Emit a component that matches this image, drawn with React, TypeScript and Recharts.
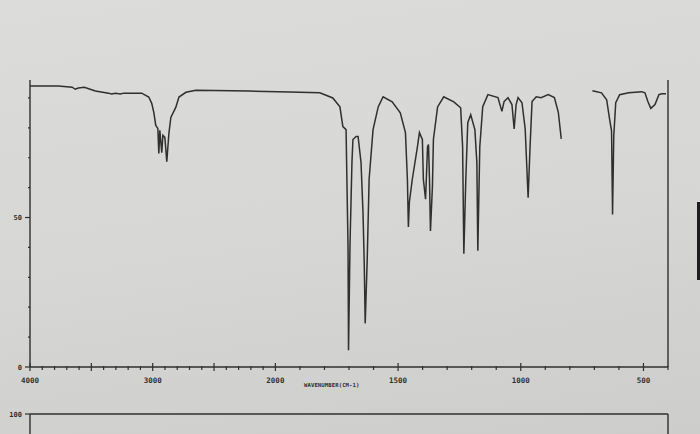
import React from 'react';
import { LineChart, Line, XAxis, YAxis, ReferenceLine } from 'recharts';

// spectrum (null = pen lifted)
const wavenumbers = [
  4000, 3770, 3656, 3631, 3606, 3557, 3467, 3360, 3336, 3303,
  3262, 3237, 3090, 3032, 3008, 2991, 2975, 2958, 2950, 2942,
  2926, 2917, 2901, 2885, 2868, 2852, 2811, 2786, 2729, 2647,
  2212, 1942, 1819, 1766, 1737, 1725, 1712, 1704, 1702, 1696,
  1688, 1684, 1671, 1663, 1651, 1643, 1638, 1634, 1626, 1618,
  1602, 1581, 1561, 1524, 1491, 1470, 1462, 1458, 1454, 1442,
  1421, 1413, 1401, 1397, 1388, 1380, 1376, 1372, 1368, 1360,
  1356, 1339, 1314, 1273, 1245, 1237, 1232, 1224, 1216, 1204,
  1187, 1179, 1175, 1167, 1155, 1134, 1093, 1077, 1068, 1052,
  1036, 1027, 1019, 1011, 995, 982, 970, 962, 954, 937,
  917, 888, 863, 847, 835, 770, 708, 671, 650, 638,
  630, 626, 621, 613, 597, 560, 507, 494, 482, 470,
  453, 437, 425, 408,
];
const transmittance: (number | null)[] = [
  94.0, 94.0, 93.6, 92.9, 93.3, 93.6, 92.3, 91.6, 91.3, 91.6,
  91.3, 91.6, 91.6, 90.3, 88.2, 85.2, 80.8, 79.8, 71.4, 79.2,
  71.7, 77.5, 76.8, 68.7, 78.1, 83.5, 86.9, 90.3, 91.9, 92.6,
  92.3, 92.0, 91.7, 90.0, 87.0, 80.4, 79.4, 40.5, 5.6, 40.5,
  68.4, 76.1, 77.1, 77.1, 68.4, 51.8, 35.2, 14.6, 35.2, 62.8,
  79.4, 87.0, 90.4, 88.7, 85.0, 78.4, 62.8, 46.8, 55.1, 62.8,
  73.7, 78.4, 76.1, 62.8, 56.1, 73.7, 74.4, 62.8, 45.5, 60.5,
  76.1, 87.0, 90.4, 88.7, 86.7, 73.7, 37.9, 62.8, 81.7, 84.4,
  79.4, 68.4, 38.9, 73.7, 87.1, 91.1, 90.1, 85.5, 88.8, 90.1,
  87.8, 79.6, 87.8, 90.1, 88.4, 79.6, 56.6, 74.0, 88.8, 90.4,
  90.1, 91.1, 90.1, 85.2, 76.3, null, 92.4, 91.7, 89.4, 82.9,
  78.9, 51.0, 77.3, 88.4, 91.1, 91.7, 92.1, 91.7, 88.8, 86.5,
  87.8, 91.1, 91.4, 91.4,
];

const xTickWavenumbers = [
  4000, 3900, 3800, 3700, 3600, 3500, 3400, 3300, 3200, 3100,
  3000, 2900, 2800, 2700, 2600, 2500, 2400, 2300, 2200, 2100,
  2000, 1900, 1800, 1700, 1600, 1500, 1400, 1300, 1200, 1100,
  1000, 900, 800, 700, 600, 500, 400,
];
const xMajorLabels = [4000, 3000, 2000, 1500, 1000, 500];
const yTicks = [0, 10, 20, 30, 40, 50, 60, 70, 80, 90];
const yLabels = [0, 50];
const nextPanelTicks = [100];

// chart paper: 4000-2000 is drawn at half the scale of 2000-400
const toScale = (w: number) => (w >= 2000 ? (4000 - w) / 2 : 1000 + (2000 - w));
const fromScale = (u: number) => (u <= 1000 ? 4000 - u * 2 : 2000 - (u - 1000));

const data = wavenumbers.map((w, i) => ({ u: toScale(w), t: transmittance[i] }));

const INK = '#2f2f2f';
const FONT = '"DejaVu Sans Mono", monospace';

const WaveTick = (props: any) => {
  const { x, y, payload } = props;
  const w = Math.round(fromScale(payload.value));
  const major = w % 500 === 0;
  const showLabel = xMajorLabels.includes(w);
  return (
    <g>
      <line x1={x} x2={x} y1={y - (major ? 4 : 1)} y2={y + (major ? 4 : 3)} stroke={INK} strokeWidth={1.2} />
      {showLabel && (
        <text x={x} y={y + 16} textAnchor="middle" fontSize={7.5} fontWeight="bold" fontFamily={FONT} fill={INK}>
          {w}
        </text>
      )}
    </g>
  );
};

const PercentTick = (props: any) => {
  const { x, y, payload } = props;
  const major = yLabels.includes(payload.value) || nextPanelTicks.includes(payload.value);
  return (
    <g>
      <line x1={x} x2={x - (major ? 5 : 2)} y1={y} y2={y} stroke={INK} strokeWidth={1.2} />
      {major && (
        <text x={x - 8} y={y + 2.5} textAnchor="end" fontSize={7} fontWeight="bold" fontFamily={FONT} fill={INK}>
          {payload.value}
        </text>
      )}
    </g>
  );
};

export default function App() {
  return (
    <div
      style={{
        position: 'fixed',
        left: 0,
        top: 0,
        width: 700,
        height: 434,
        overflow: 'hidden',
        background: 'linear-gradient(172deg, #dcdcda 0%, #d6d6d4 55%, #cdcdcb 100%)',
      }}
    >
      <div style={{ position: 'absolute', left: 0, top: 0 }}>
        <LineChart width={700} height={420} data={data} margin={{ top: 80, right: 32, bottom: 13, left: 0 }}>
          <XAxis
            dataKey="u"
            type="number"
            domain={[0, 2600]}
            ticks={xTickWavenumbers.map(toScale)}
            interval={0}
            height={40}
            tickSize={0}
            tickMargin={0}
            tickLine={false}
            tick={<WaveTick />}
            axisLine={{ stroke: INK, strokeWidth: 1.4 }}
            allowDataOverflow
          />
          <YAxis
            type="number"
            domain={[0, 96]}
            ticks={yTicks}
            interval={0}
            width={30}
            tickSize={0}
            tickMargin={0}
            tickLine={false}
            tick={<PercentTick />}
            axisLine={{ stroke: INK, strokeWidth: 1.4 }}
            allowDataOverflow
          />
          <ReferenceLine x={2600} stroke={INK} strokeWidth={1.4} />
          <Line
            dataKey="t"
            type="linear"
            stroke={INK}
            strokeWidth={1.5}
            dot={false}
            connectNulls={false}
            isAnimationActive={false}
          />
        </LineChart>
      </div>
      <div
        style={{
          position: 'absolute',
          left: 304,
          top: 382,
          fontFamily: FONT,
          fontWeight: 'bold',
          fontSize: 5.6,
          color: INK,
          letterSpacing: 0.1,
        }}
      >
        WAVENUMBER(CM-1)
      </div>
      {/* top edge of the next spectrum on the sheet */}
      <div style={{ position: 'absolute', left: 0, top: 398 }}>
        <LineChart width={700} height={120} data={data} margin={{ top: 16, right: 32, bottom: 0, left: 0 }}>
          <XAxis dataKey="u" type="number" domain={[0, 2600]} allowDataOverflow hide />
          <YAxis
            type="number"
            domain={[0, 100]}
            allowDataOverflow
            ticks={nextPanelTicks}
            interval={0}
            width={30}
            tickSize={0}
            tickMargin={0}
            tickLine={false}
            tick={<PercentTick />}
            axisLine={{ stroke: INK, strokeWidth: 1.4 }}
          />
          <ReferenceLine y={100} stroke={INK} strokeWidth={1.4} />
          <ReferenceLine x={2600} stroke={INK} strokeWidth={1.4} />
          <Line dataKey="t" stroke="transparent" dot={false} isAnimationActive={false} />
        </LineChart>
      </div>
      <div style={{ position: 'absolute', left: 697, top: 202, width: 3, height: 78, background: '#1e1e1e' }} />
    </div>
  );
}
